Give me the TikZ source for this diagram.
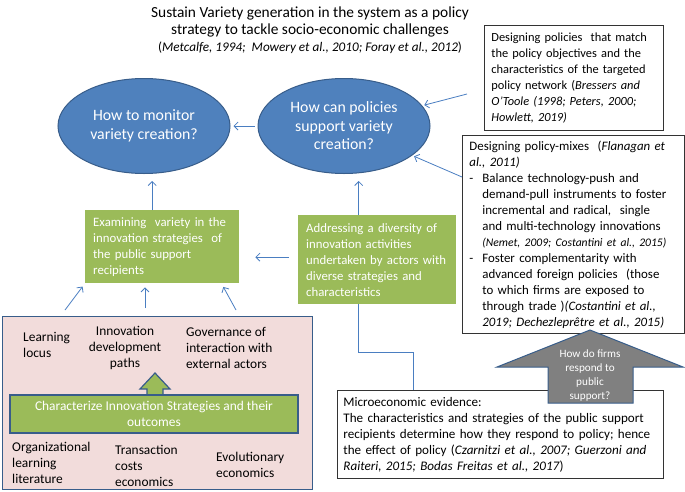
\documentclass[tikz,border=0pt]{standalone}
\usepackage{fontspec}
\setmainfont{Carlito}
\usetikzlibrary{arrows.meta,positioning,calc,shapes.geometric}
\definecolor{ellblue}{RGB}{79,129,189}
\definecolor{elledge}{RGB}{56,93,138}
\definecolor{linkblue}{RGB}{74,126,193}
\definecolor{boxgreen}{RGB}{155,187,89}
\definecolor{boxpink}{RGB}{242,220,219}
\definecolor{askgray}{RGB}{128,128,128}

\begin{document}
\begin{tikzpicture}[x=1pt,y=-1pt,>={Straight Barb[length=4pt,width=8pt]},
  q/.style={ellipse,draw=elledge,line width=1pt,fill=ellblue,text=white,minimum width=172pt,
    minimum height=95pt,align=center,font=\fontsize{15.8}{18.5}\selectfont},
  g/.style={fill=boxgreen,text=white,anchor=north west,inner xsep=8pt,align=left,
    font=\fontsize{12.8}{16}\selectfont},
  lit/.style={draw=black!80,line width=0.8pt,fill=white,anchor=north west,inner xsep=7pt,
    align=left,font=\fontsize{13}{16}\selectfont},
  t/.style={align=left,inner sep=0pt,font=\fontsize{13.4}{16}\selectfont},
  link/.style={draw=linkblue,line width=0.8pt}]
\useasboundingbox (0,0) rectangle (685,491);

\node[align=center,font=\fontsize{15.4}{17}\selectfont] (title) at (310,30)
  {Sustain Variety generation in the system as a policy\\strategy to tackle socio-economic challenges\\
   \fontsize{13.2}{17}\selectfont(\textit{Metcalfe, 1994; \ Mowery et al., 2010; Foray et al., 2012})};

\node[q] (ellL) at (144,126) {How to monitor\\variety creation?};
\node[q] (ellR) at (344,126) {How can policies\\support variety\\creation?};

\node[lit,text width=165pt,minimum height=105pt,font=\fontsize{12.4}{16}\selectfont] (pol) at (484,25)
  {Designing policies \ that match\\the policy objectives and the\\characteristics of the targeted\\
   policy network (\textit{Bressers and}\\\textit{O'Toole (1998; Peters, 2000;}\\\textit{Howlett, 2019)}};
\node[lit,text width=208pt,minimum height=198pt,font=\fontsize{12.9}{16}\selectfont] (mix) at (462,135)
  {Designing policy-mixes \ (\textit{Flanagan et}\\
   \textit{al., 2011)}\\
   \makebox[13pt][l]{-}Balance technology-push and\\
   \hspace*{13pt}demand-pull instruments to foster\\
   \hspace*{13pt}incremental and radical, \ single\\
   \hspace*{13pt}and multi-technology innovations\\
   \hspace*{13pt}{\fontsize{11.6}{16}\selectfont\itshape(Nemet, 2009; Costantini et al., 2015)}\\
   \makebox[13pt][l]{-}Foster complementarity with\\
   \hspace*{13pt}advanced foreign policies \ (those\\
   \hspace*{13pt}to which firms are exposed to\\
   \hspace*{13pt}through trade )\textit{(Costantini et al.,}\\
   \hspace*{13pt}\textit{2019; Dechezleprêtre et al., 2015)}};

\node[g,text width=138pt,minimum height=73pt] (exam) at (85,210)
  {Examining \ variety in the\\innovation strategies \ of\\the public support\\recipients};
\node[g,text width=142pt,minimum height=89pt] (addr) at (298,215)
  {Addressing a diversity of\\innovation activities\\undertaken by actors with\\diverse strategies and\\characteristics};

% strategies box
\node[draw=elledge,line width=1.5pt,fill=boxpink,minimum width=310pt,minimum height=173pt,
  anchor=north west] (pink) at (1.5,315.5) {};
\node[t,anchor=west] (locus) at (23,345) {Learning\\locus};
\node[t,align=center] (paths) at (125,348) {Innovation\\development\\paths};
\node[t,anchor=west] (gov) at (186,348) {Governance of\\interaction with\\external actors};
\draw[draw=elledge,line width=1.2pt,fill=boxgreen]
  (147,396) -- (147,389) -- (140,389) -- (155,373) -- (170,389) -- (163,389) -- (163,396);
\node[draw=elledge,line width=1.5pt,fill=boxgreen,text=white,minimum width=288pt,minimum height=38pt,
  align=center,font=\fontsize{13.4}{16}\selectfont] (charac) at (154,414)
  {Characterize Innovation Strategies and their\\outcomes};
\node[t,anchor=west] (orglit) at (12,463) {Organizational\\learning\\literature};
\node[t,anchor=west] (trans) at (115,466) {Transaction\\costs\\economics};
\node[t,anchor=west] (evo) at (216,465) {Evolutionary\\economics};

\node[lit,inner xsep=6pt,text width=314pt,minimum height=88pt,font=\fontsize{13.1}{16}\selectfont] (micro) at (337,390)
  {Microeconomic evidence:\\
   The characteristics and strategies of the public support\\
   recipients determine how they respond to policy; hence\\
   the effect of policy (\textit{Czarnitzi et al., 2007; Guerzoni and}\\
   \textit{Raiteri, 2015; Bodas Freitas et al., 2017})};

% grey question arrow
\draw[draw=elledge,line width=1pt,fill=askgray]
  (548,403) -- (548,367) -- (497,367) -- (590,330) -- (683,367) -- (633,367) -- (633,403) -- cycle;
\node[align=center,text=white,font=\fontsize{11.2}{14}\selectfont] (ask) at (590,376)
  {How do firms\\respond to\\public\\support?};

% connectors
\coordinate (polT) at (467,94);
\coordinate (l1) at (65,310);
\coordinate (l2) at (145,308);
\coordinate (l3) at (236,310);
\coordinate (bend) at (413,352);
\draw[link,->,shorten >=3pt,shorten <=3pt] (ellR) -- (ellL);
\draw[link,->,shorten >=2pt] (polT) -- (ellR);
\draw[link,->,shorten >=2pt] ([yshift=-42pt]mix.north west) -- (ellR);
\draw[link,->,shorten >=7pt] ([xshift=-10pt]exam.north) -- ([xshift=-10pt]exam.north |- ellL.south);
\draw[link,->,shorten >=7pt] ([xshift=-18.5pt]addr.north) -- ([xshift=-18.5pt]addr.north |- ellR.south);
\draw[link,->,shorten <=9pt,shorten >=16pt] ([yshift=2.5pt]addr.west) -- ([yshift=-10.5pt]exam.east);
\draw[link,->,shorten >=4pt] (l1) -- (exam.south west);
\draw[link,->,shorten >=4pt] (l2) -- (l2 |- exam.south);
\draw[link,->,shorten >=4pt] (l3) -- ([xshift=-18pt]exam.south east);
\draw[link,line width=0.6pt] ([xshift=-18.5pt]addr.south) |- (bend) -- (bend |- micro.north);
\end{tikzpicture}
\end{document}
